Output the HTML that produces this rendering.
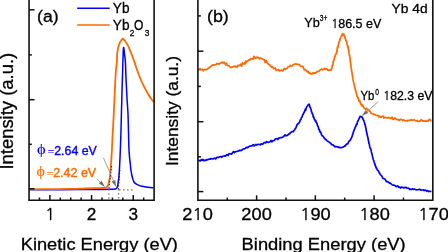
<!DOCTYPE html>
<html><head><meta charset="utf-8"><title>Figure</title>
<style>html,body{margin:0;padding:0;background:#fff;}body{width:448px;height:252px;overflow:hidden;}svg{display:block;}</style>
</head><body>
<svg width="448" height="252" viewBox="0 0 448 252">
<rect width="448" height="252" fill="#fff"/>
<g font-family="'Liberation Sans', Arial, Helvetica, sans-serif">
<path d="M29.50,189.70 C34.58,189.69 48.25,189.68 60.00,189.65 C71.75,189.62 91.50,189.55 100.00,189.50 C108.50,189.45 108.58,189.42 111.00,189.35 C113.42,189.28 113.73,189.17 114.50,189.10 C115.27,189.03 115.28,189.00 115.60,188.90 C115.92,188.80 116.13,188.77 116.40,188.50 C116.67,188.23 116.98,187.80 117.20,187.30 C117.42,186.80 117.53,186.38 117.70,185.50 C117.87,184.62 118.03,183.13 118.20,182.00 C118.37,180.87 118.55,180.03 118.70,178.70 C118.85,177.37 118.97,175.78 119.10,174.00 C119.23,172.22 119.35,170.67 119.50,168.00 C119.65,165.33 119.85,161.33 120.00,158.00 C120.15,154.67 120.25,152.00 120.40,148.00 C120.55,144.00 120.73,139.67 120.90,134.00 C121.07,128.33 121.25,119.67 121.40,114.00 C121.55,108.33 121.68,104.33 121.80,100.00 C121.92,95.67 121.98,92.00 122.10,88.00 C122.22,84.00 122.37,80.33 122.50,76.00 C122.63,71.67 122.78,66.00 122.90,62.00 C123.02,58.00 123.10,54.40 123.20,52.00 C123.30,49.60 123.38,48.17 123.50,47.60 C123.62,47.03 123.75,47.70 123.90,48.60 C124.05,49.50 124.15,50.77 124.40,53.00 C124.65,55.23 125.15,58.17 125.40,62.00 C125.65,65.83 125.72,71.67 125.90,76.00 C126.08,80.33 126.30,84.00 126.50,88.00 C126.70,92.00 126.85,95.67 127.10,100.00 C127.35,104.33 127.73,107.33 128.00,114.00 C128.27,120.67 128.53,134.00 128.70,140.00 C128.87,146.00 128.85,147.00 129.00,150.00 C129.15,153.00 129.38,155.67 129.60,158.00 C129.82,160.33 130.08,162.00 130.30,164.00 C130.52,166.00 130.65,168.17 130.90,170.00 C131.15,171.83 131.50,173.58 131.80,175.00 C132.10,176.42 132.33,177.33 132.70,178.50 C133.07,179.67 133.45,181.10 134.00,182.00 C134.55,182.90 135.27,183.38 136.00,183.90 C136.73,184.42 137.40,184.70 138.40,185.10 C139.40,185.50 140.70,185.97 142.00,186.30 C143.30,186.63 144.87,186.88 146.20,187.10 C147.53,187.32 148.80,187.47 150.00,187.60 C151.20,187.73 152.83,187.85 153.40,187.90" fill="none" stroke="#0000ff" stroke-width="1.5" stroke-linejoin="round"/>
<path d="M29.50,189.30 C32.92,189.27 43.25,189.17 50.00,189.10 C56.75,189.03 64.17,189.00 70.00,188.90 C75.83,188.80 80.83,188.62 85.00,188.50 C89.17,188.38 92.50,188.27 95.00,188.20 C97.50,188.13 98.67,188.13 100.00,188.10 C101.33,188.07 102.25,188.03 103.00,188.00 C103.75,187.97 104.03,188.00 104.50,187.95 C104.97,187.90 105.42,187.86 105.80,187.70 C106.18,187.54 106.50,187.28 106.80,187.00 C107.10,186.72 107.35,186.40 107.60,186.00 C107.85,185.60 108.07,185.35 108.30,184.60 C108.53,183.85 108.78,182.48 109.00,181.50 C109.22,180.52 109.42,179.78 109.60,178.70 C109.78,177.62 109.95,176.45 110.10,175.00 C110.25,173.55 110.37,171.67 110.50,170.00 C110.63,168.33 110.77,166.67 110.90,165.00 C111.03,163.33 111.13,162.50 111.30,160.00 C111.47,157.50 111.68,154.17 111.90,150.00 C112.12,145.83 112.38,139.17 112.60,135.00 C112.82,130.83 113.00,128.67 113.20,125.00 C113.40,121.33 113.60,117.17 113.80,113.00 C114.00,108.83 114.20,104.33 114.40,100.00 C114.60,95.67 114.75,91.83 115.00,87.00 C115.25,82.17 115.58,75.27 115.90,71.00 C116.22,66.73 116.68,64.32 116.90,61.40 C117.12,58.48 116.97,55.88 117.20,53.50 C117.43,51.12 117.85,48.97 118.30,47.10 C118.75,45.23 119.40,43.43 119.90,42.30 C120.40,41.17 120.83,40.90 121.30,40.30 C121.77,39.70 122.27,38.77 122.70,38.70 C123.13,38.63 123.48,39.48 123.90,39.90 C124.32,40.32 124.68,40.52 125.20,41.20 C125.72,41.88 126.40,42.98 127.00,44.00 C127.60,45.02 128.22,46.03 128.80,47.30 C129.38,48.57 129.85,49.93 130.50,51.60 C131.15,53.27 132.07,55.65 132.70,57.30 C133.33,58.95 133.82,60.13 134.30,61.50 C134.78,62.87 134.98,63.67 135.60,65.50 C136.22,67.33 137.12,70.08 138.00,72.50 C138.88,74.92 139.82,77.52 140.90,80.00 C141.98,82.48 143.20,84.90 144.50,87.40 C145.80,89.90 147.58,93.10 148.70,95.00 C149.82,96.90 150.38,97.63 151.20,98.80 C152.02,99.97 153.20,101.47 153.60,102.00" fill="none" stroke="#ff6a00" stroke-width="1.8" stroke-linejoin="round"/>
<g stroke="#777" stroke-width="1.3" stroke-dasharray="1.6,2.4" fill="none">
<line x1="108.9" y1="189.2" x2="108.9" y2="199"/>
<line x1="118.6" y1="189.0" x2="118.6" y2="199"/>
<line x1="119" y1="189.9" x2="133" y2="189.9"/>
</g>
<g stroke="#222" stroke-width="1" stroke-dasharray="1.5,1.5" fill="none">
<line x1="111.6" y1="166" x2="108.9" y2="189"/>
<line x1="119.9" y1="170" x2="118.4" y2="189"/>
</g>
<line x1="96.8" y1="178.7" x2="100.18" y2="182.12" stroke="#a0a098" stroke-width="1"/>
<polygon points="105.10,187.10 98.83,183.46 101.53,180.79" fill="#6e6e60"/>
<line x1="103.5" y1="157.9" x2="113.41" y2="180.68" stroke="#a0a098" stroke-width="1"/>
<polygon points="116.20,187.10 111.67,181.44 115.15,179.92" fill="#6e6e60"/>
<g stroke="#111" stroke-width="1.6" fill="none">
<path d="M29.05,0 V200.3 H154.1 V0"/>
</g>
<g stroke="#111" stroke-width="1.5">
<line x1="29.05" y1="9.8" x2="34.55" y2="9.8"/>
<line x1="29.05" y1="54.9" x2="31.85" y2="54.9"/>
<line x1="29.05" y1="99.7" x2="34.55" y2="99.7"/>
<line x1="29.05" y1="144.3" x2="31.85" y2="144.3"/>
<line x1="29.05" y1="188.8" x2="34.55" y2="188.8"/>
<line x1="39.47" y1="200.3" x2="39.47" y2="197.5"/>
<line x1="49.89" y1="200.3" x2="49.89" y2="195.0"/>
<line x1="60.31" y1="200.3" x2="60.31" y2="197.5"/>
<line x1="70.73" y1="200.3" x2="70.73" y2="197.5"/>
<line x1="81.15" y1="200.3" x2="81.15" y2="197.5"/>
<line x1="91.58" y1="200.3" x2="91.58" y2="195.0"/>
<line x1="102.00" y1="200.3" x2="102.00" y2="197.5"/>
<line x1="112.42" y1="200.3" x2="112.42" y2="197.5"/>
<line x1="122.84" y1="200.3" x2="122.84" y2="197.5"/>
<line x1="133.26" y1="200.3" x2="133.26" y2="195.0"/>
<line x1="143.68" y1="200.3" x2="143.68" y2="197.5"/>
</g>
<path d="M198.20,69.06 L199.10,69.89 L200.00,68.61 L200.83,69.96 L201.67,69.30 L202.50,69.43 L203.30,70.77 L204.10,69.63 L204.90,69.47 L205.95,69.61 L207.00,69.51 L207.80,68.45 L208.60,68.51 L209.40,67.18 L210.10,67.13 L210.80,66.66 L211.50,65.66 L212.30,65.15 L213.10,64.67 L213.90,65.15 L214.68,64.92 L215.45,64.55 L216.22,64.52 L217.00,63.36 L217.80,63.95 L218.60,63.95 L219.40,64.08 L220.20,62.86 L221.00,62.95 L222.00,62.06 L223.00,63.15 L224.00,62.21 L224.82,63.03 L225.65,64.95 L226.48,63.18 L227.30,65.41 L228.03,65.57 L228.77,65.64 L229.50,66.59 L230.23,67.00 L230.97,67.69 L231.70,67.25 L232.52,66.88 L233.35,66.72 L234.18,66.33 L235.00,66.77 L235.97,66.20 L236.95,67.28 L237.93,65.32 L238.90,65.71 L239.77,65.33 L240.63,64.14 L241.50,66.20 L242.40,62.94 L243.30,63.75 L244.20,63.07 L244.90,63.97 L245.60,61.19 L246.30,62.65 L247.00,61.04 L247.87,60.84 L248.73,59.94 L249.60,60.21 L250.40,58.65 L251.20,58.88 L252.00,58.72 L252.97,59.33 L253.93,56.31 L254.90,58.46 L255.77,58.10 L256.63,57.19 L257.50,57.69 L258.43,57.37 L259.37,58.87 L260.30,58.13 L261.20,58.31 L262.10,58.76 L263.00,59.22 L263.90,59.69 L264.55,59.92 L265.20,62.45 L265.85,60.62 L266.50,60.89 L267.18,62.95 L267.85,63.46 L268.52,64.31 L269.20,64.47 L269.97,65.17 L270.73,66.14 L271.50,67.21 L272.20,66.65 L272.90,67.03 L273.60,68.83 L274.45,68.44 L275.30,67.98 L276.15,70.57 L277.00,70.09 L277.74,69.59 L278.48,69.58 L279.22,70.87 L279.96,70.51 L280.70,70.73 L281.42,70.18 L282.14,70.28 L282.86,70.90 L283.58,69.53 L284.30,68.48 L285.02,69.38 L285.74,68.56 L286.46,68.61 L287.18,68.40 L287.90,67.09 L288.67,66.71 L289.45,66.37 L290.23,65.28 L291.00,66.02 L291.83,66.20 L292.67,65.18 L293.50,64.65 L294.30,64.47 L295.10,63.97 L295.90,63.79 L296.80,64.28 L297.70,64.23 L298.60,64.72 L299.48,64.47 L300.37,66.15 L301.25,66.43 L302.00,66.34 L302.75,66.28 L303.50,68.40 L304.23,69.80 L304.97,69.34 L305.70,70.19 L306.52,70.64 L307.35,71.91 L308.18,71.42 L309.00,73.12 L309.75,72.71 L310.50,73.88 L311.25,73.72 L312.00,73.95 L313.00,72.87 L314.00,73.07 L314.80,72.93 L315.60,73.12 L316.40,72.45 L317.27,71.33 L318.13,71.49 L319.00,71.32 L319.93,70.14 L320.87,69.49 L321.80,69.05 L322.70,69.71 L323.60,69.44 L324.50,68.41 L325.37,69.34 L326.23,68.90 L327.10,68.82 L327.90,70.42 L328.70,70.49 L329.50,69.84 L330.40,70.10 L331.30,70.12 L331.56,68.50 L331.82,67.92 L332.08,67.52 L332.34,65.07 L332.60,65.51 L332.78,64.91 L332.96,63.90 L333.14,61.87 L333.32,62.06 L333.50,60.45 L333.74,60.56 L333.98,59.78 L334.22,58.74 L334.46,57.32 L334.70,56.63 L335.02,56.71 L335.33,54.76 L335.65,54.81 L335.97,53.99 L336.28,52.66 L336.60,53.51 L336.84,51.10 L337.08,51.48 L337.32,47.90 L337.56,46.82 L337.80,47.92 L338.00,46.88 L338.20,45.46 L338.40,44.81 L338.60,42.82 L338.80,42.80 L339.07,41.65 L339.35,41.26 L339.62,41.06 L339.90,39.63 L340.22,39.01 L340.55,37.51 L340.88,36.85 L341.20,36.37 L341.60,35.42 L342.00,35.70 L342.40,33.65 L343.40,35.10 L343.95,34.23 L344.50,36.47 L344.80,36.21 L345.10,38.64 L345.40,38.59 L345.70,39.65 L345.94,40.69 L346.18,40.64 L346.42,41.20 L346.66,41.40 L346.90,44.27 L347.14,43.86 L347.38,44.73 L347.62,45.88 L347.86,47.96 L348.10,46.41 L348.25,48.52 L348.41,48.98 L348.56,50.43 L348.72,49.82 L348.87,51.57 L349.03,53.21 L349.18,54.53 L349.34,55.42 L349.49,54.73 L349.65,56.17 L349.80,56.93 L349.92,57.03 L350.04,57.89 L350.16,60.18 L350.28,60.76 L350.40,61.41 L350.52,63.17 L350.64,62.67 L350.76,64.53 L350.88,65.11 L351.00,65.96 L351.12,67.19 L351.25,67.86 L351.38,68.79 L351.50,69.67 L351.62,71.60 L351.75,71.05 L351.88,72.77 L352.00,73.38 L352.14,73.64 L352.29,75.22 L352.43,75.03 L352.57,77.16 L352.71,76.77 L352.86,77.83 L353.00,79.20 L353.17,80.36 L353.33,81.24 L353.50,82.07 L353.67,82.20 L353.83,82.56 L354.00,84.35 L354.21,85.12 L354.43,85.25 L354.64,87.40 L354.86,87.84 L355.07,88.04 L355.29,89.85 L355.50,89.66 L355.75,90.86 L356.00,92.59 L356.25,92.26 L356.50,94.19 L356.75,94.23 L357.00,96.47 L357.40,96.44 L357.80,97.92 L358.20,97.75 L358.60,99.38 L359.00,101.10 L359.50,101.66 L360.00,101.09 L360.50,103.71 L361.00,104.56 L361.60,104.42 L362.20,106.22 L362.80,105.31 L363.40,106.59 L364.00,108.00 L364.70,108.67 L365.40,109.19 L366.10,108.23 L366.80,108.33 L367.50,110.25 L368.33,109.69 L369.17,111.12 L370.00,110.99 L370.72,112.97 L371.44,113.31 L372.16,113.65 L372.88,113.81 L373.60,114.33 L374.57,114.45 L375.53,115.21 L376.50,115.46 L377.27,115.74 L378.05,115.33 L378.83,116.95 L379.60,116.08 L380.48,117.08 L381.36,117.34 L382.24,116.24 L383.12,116.03 L384.00,118.20 L384.90,117.30 L385.80,117.74 L386.70,117.67 L387.60,118.06 L388.50,117.37 L389.40,118.20 L390.30,118.12 L391.20,118.55 L392.10,117.22 L392.99,119.34 L393.88,119.14 L394.78,117.96 L395.67,118.70 L396.56,119.30 L397.45,119.80 L398.34,119.52 L399.23,120.51 L400.12,119.76 L401.02,119.23 L401.91,119.56 L402.80,120.57 L403.69,119.76 L404.58,120.73 L405.48,120.90 L406.37,120.67 L407.26,120.99 L408.15,120.29 L409.04,120.44 L409.93,120.13 L410.82,120.16 L411.72,119.61 L412.61,120.30 L413.50,120.02 L414.39,119.80 L415.28,120.79 L416.17,120.99 L417.06,120.48 L417.94,121.57 L418.83,121.30 L419.72,121.36 L420.61,120.32 L421.50,119.76 L422.41,121.05 L423.32,120.89 L424.23,121.16 L425.14,120.96 L426.05,121.50 L426.95,120.52 L427.86,121.12 L428.77,120.13 L429.68,119.24 L430.59,120.42 L431.50,120.70" fill="none" stroke="#ff6a00" stroke-width="1.7" stroke-linejoin="round"/>
<path d="M198.20,160.51 L199.15,160.40 L200.10,161.03 L201.05,159.68 L202.00,160.44 L202.94,159.43 L203.88,160.67 L204.82,160.16 L205.76,160.50 L206.70,159.59 L207.58,159.81 L208.47,159.38 L209.35,159.05 L210.23,159.26 L211.12,158.53 L212.00,158.75 L212.90,158.97 L213.80,158.49 L214.70,158.08 L215.60,158.94 L216.50,157.84 L217.40,157.36 L218.28,157.43 L219.17,156.92 L220.05,156.74 L220.93,156.52 L221.82,157.27 L222.70,156.21 L223.60,155.99 L224.50,155.91 L225.40,156.18 L226.30,154.97 L227.20,154.53 L228.10,155.52 L229.00,153.58 L229.90,153.72 L230.80,153.83 L231.70,154.18 L232.60,152.52 L233.50,151.60 L234.40,152.56 L235.30,151.75 L236.20,151.49 L237.10,151.52 L238.00,151.11 L238.90,150.82 L239.80,150.20 L240.70,150.58 L241.60,150.35 L242.50,149.41 L243.38,148.86 L244.25,149.00 L245.12,148.55 L246.00,147.57 L246.90,147.37 L247.80,147.56 L248.70,146.65 L249.60,146.11 L250.50,146.13 L251.40,145.82 L252.30,145.62 L253.20,144.62 L254.10,145.93 L255.00,145.08 L255.88,144.46 L256.77,145.04 L257.65,144.58 L258.53,144.27 L259.42,144.52 L260.30,144.83 L261.18,143.91 L262.07,144.12 L262.95,144.14 L263.83,142.61 L264.72,142.60 L265.60,142.92 L266.50,141.66 L267.40,142.02 L268.30,142.43 L269.20,142.10 L270.10,141.67 L271.00,140.42 L271.86,141.86 L272.73,140.80 L273.59,140.58 L274.45,140.15 L275.31,138.93 L276.17,138.73 L277.04,138.51 L277.90,139.49 L278.79,138.02 L279.68,137.93 L280.57,137.59 L281.46,137.60 L282.34,137.24 L283.23,136.81 L284.12,135.85 L285.01,134.98 L285.90,135.77 L286.67,135.44 L287.45,135.46 L288.23,134.53 L289.00,133.95 L289.70,133.84 L290.40,132.51 L291.10,132.20 L291.80,131.68 L292.53,131.59 L293.27,131.70 L294.00,130.51 L294.60,129.87 L295.20,128.70 L295.80,127.92 L296.20,126.91 L296.60,126.28 L297.00,124.70 L297.40,124.50 L297.90,123.67 L298.40,123.75 L298.90,122.87 L299.40,122.27 L299.80,121.59 L300.20,119.97 L300.60,119.69 L301.00,119.21 L301.48,117.52 L301.95,117.10 L302.42,115.71 L302.90,114.23 L303.27,114.17 L303.65,113.01 L304.02,112.62 L304.40,111.61 L304.77,111.21 L305.15,109.47 L305.52,110.48 L305.90,109.46 L306.27,107.96 L306.63,106.93 L307.00,106.50 L307.45,106.03 L307.90,105.17 L308.50,104.57 L309.00,104.14 L309.50,105.03 L309.78,106.89 L310.06,107.28 L310.34,107.39 L310.62,108.50 L310.90,109.10 L311.20,110.10 L311.50,111.83 L311.80,112.07 L312.10,113.45 L312.40,113.88 L312.68,113.95 L312.96,115.09 L313.24,117.10 L313.52,116.60 L313.80,117.26 L314.18,118.94 L314.56,119.18 L314.94,119.86 L315.32,121.20 L315.70,120.56 L316.07,122.30 L316.45,122.51 L316.82,123.19 L317.20,124.26 L317.50,125.88 L317.80,126.14 L318.10,126.23 L318.40,127.33 L318.70,129.24 L319.08,129.81 L319.46,129.70 L319.84,131.96 L320.22,131.57 L320.60,132.00 L320.98,133.14 L321.35,134.29 L321.73,135.28 L322.10,135.73 L322.60,135.85 L323.10,136.53 L323.60,136.89 L324.20,138.12 L324.80,138.55 L325.40,139.55 L326.00,139.57 L326.75,140.58 L327.50,141.13 L328.33,141.56 L329.17,142.13 L330.00,142.77 L330.75,143.23 L331.50,144.49 L332.25,144.82 L333.00,144.74 L333.73,145.84 L334.45,146.07 L335.17,146.89 L335.90,146.52 L336.90,146.78 L337.90,146.84 L338.90,147.45 L339.90,147.67 L340.90,147.61 L341.90,147.49 L342.62,147.46 L343.34,146.88 L344.06,146.56 L344.78,145.69 L345.50,145.79 L346.07,144.65 L346.63,144.08 L347.20,143.87 L347.70,143.99 L348.20,142.82 L348.70,141.70 L349.23,140.89 L349.77,140.65 L350.30,140.08 L350.83,139.18 L351.37,137.75 L351.90,137.08 L352.20,135.99 L352.50,135.13 L352.80,134.01 L353.10,133.39 L353.40,131.67 L353.70,131.14 L354.00,130.90 L354.30,129.41 L354.70,129.09 L355.10,127.39 L355.50,126.84 L355.87,126.27 L356.23,124.76 L356.60,124.00 L357.00,124.41 L357.40,122.15 L357.80,121.20 L358.20,120.32 L358.60,119.65 L359.00,118.69 L359.30,118.41 L359.60,117.63 L360.10,116.33 L360.70,116.65 L361.40,116.70 L362.20,117.27 L362.73,118.39 L363.27,119.81 L363.80,120.35 L364.07,121.47 L364.33,122.36 L364.60,122.73 L364.80,124.46 L365.00,124.13 L365.20,124.86 L365.40,125.72 L365.58,127.31 L365.77,127.71 L365.95,128.39 L366.13,129.82 L366.32,131.04 L366.50,131.45 L366.70,132.31 L366.90,133.79 L367.10,134.66 L367.30,135.57 L367.50,135.76 L367.70,137.12 L367.90,138.07 L368.10,138.08 L368.30,140.26 L368.50,140.71 L368.70,141.44 L368.90,143.45 L369.10,143.50 L369.30,144.06 L369.50,145.27 L369.70,146.47 L369.90,147.51 L370.10,148.08 L370.60,148.14 L370.78,149.01 L370.96,149.76 L371.14,150.46 L371.32,151.69 L371.50,152.29 L371.71,153.38 L371.93,153.87 L372.14,154.71 L372.36,155.85 L372.57,156.64 L372.79,158.13 L373.00,158.12 L373.28,159.50 L373.57,160.32 L373.85,160.70 L374.13,162.47 L374.42,163.15 L374.70,163.12 L375.03,165.04 L375.37,165.96 L375.70,166.01 L376.03,167.85 L376.37,167.98 L376.70,168.21 L377.18,169.74 L377.66,170.15 L378.14,170.54 L378.62,171.00 L379.10,172.80 L379.68,173.15 L380.26,174.49 L380.84,175.14 L381.42,175.52 L382.00,176.28 L382.60,177.88 L383.20,178.48 L383.80,178.72 L384.40,178.88 L385.00,179.25 L385.60,180.14 L386.38,181.58 L387.16,181.65 L387.94,181.92 L388.72,182.10 L389.50,183.27 L390.32,183.20 L391.13,183.94 L391.95,184.61 L392.77,185.12 L393.58,185.09 L394.40,185.26 L395.25,185.75 L396.10,186.66 L396.95,186.31 L397.80,185.81 L398.65,187.30 L399.50,187.01 L400.33,188.11 L401.16,187.02 L401.99,187.33 L402.81,187.40 L403.64,187.84 L404.47,187.60 L405.30,187.38 L406.19,187.34 L407.07,188.23 L407.96,188.21 L408.84,188.33 L409.73,189.60 L410.61,189.19 L411.50,189.46 L412.35,188.88 L413.20,189.30 L414.05,189.17 L414.90,189.26 L415.75,189.75 L416.60,189.78 L417.45,189.74 L418.30,189.76 L419.26,189.21 L420.21,189.62 L421.17,190.20 L422.13,190.00 L423.09,189.95 L424.04,190.53 L425.00,190.11 L425.91,190.33 L426.83,191.10 L427.74,190.69 L428.66,191.56 L429.57,191.29 L430.49,191.52 L431.40,191.30" fill="none" stroke="#0000ff" stroke-width="1.7" stroke-linejoin="round"/>
<line x1="378.2" y1="101.7" x2="366.97" y2="111.50" stroke="#a0a098" stroke-width="1"/>
<polygon points="361.70,116.10 365.72,110.07 368.22,112.93" fill="#6e6e60"/>
<g stroke="#111" stroke-width="1.6" fill="none">
<path d="M197.9,0 V200.3 H432.8 V0"/>
</g>
<g stroke="#111" stroke-width="1.5">
<line x1="197.9" y1="15.9" x2="200.9" y2="15.9"/>
<line x1="197.9" y1="51.2" x2="203.4" y2="51.2"/>
<line x1="197.9" y1="86.4" x2="200.9" y2="86.4"/>
<line x1="197.9" y1="121.7" x2="203.4" y2="121.7"/>
<line x1="197.9" y1="156.8" x2="200.9" y2="156.8"/>
<line x1="197.9" y1="191.6" x2="203.4" y2="191.6"/>
<line x1="227.26" y1="200.3" x2="227.26" y2="197.60000000000002"/>
<line x1="256.62" y1="200.3" x2="256.62" y2="195.3"/>
<line x1="285.99" y1="200.3" x2="285.99" y2="197.60000000000002"/>
<line x1="315.35" y1="200.3" x2="315.35" y2="195.3"/>
<line x1="344.71" y1="200.3" x2="344.71" y2="197.60000000000002"/>
<line x1="374.08" y1="200.3" x2="374.08" y2="195.3"/>
<line x1="403.44" y1="200.3" x2="403.44" y2="197.60000000000002"/>
</g>
<text transform="translate(37.00,22.20) scale(1.0212,1)" font-size="17.3" fill="#000" stroke="#000" stroke-width="0.3">(a)</text>
<text transform="translate(206.99,22.20) scale(1.0377,1)" font-size="17.2" fill="#000" stroke="#000" stroke-width="0.3">(b)</text>
<line x1="77.2" y1="8.3" x2="109.7" y2="8.3" stroke="#0000ff" stroke-width="1.5"/>
<line x1="77.2" y1="25.1" x2="109.7" y2="25.1" stroke="#ff6a00" stroke-width="1.5"/>
<text transform="translate(112.80,13.10) scale(0.9877,1)" font-size="13.8" fill="#000" stroke="#000" stroke-width="0.3">Yb</text>
<text><tspan x="112.80" y="30.30" font-size="13.8" textLength="16.67" lengthAdjust="spacingAndGlyphs" fill="#000" stroke="#000" stroke-width="0.3">Yb</tspan><tspan x="129.68" y="35.60" font-size="8.6" textLength="4.64" lengthAdjust="spacingAndGlyphs" fill="#000" stroke="#000" stroke-width="0.3">2</tspan><tspan x="134.03" y="30.40" font-size="13.8" textLength="9.34" lengthAdjust="spacingAndGlyphs" fill="#000" stroke="#000" stroke-width="0.3">O</tspan><tspan x="144.69" y="35.70" font-size="8.6" textLength="4.57" lengthAdjust="spacingAndGlyphs" fill="#000" stroke="#000" stroke-width="0.3">3</tspan></text>
<text><tspan x="37.05" y="154.10" font-size="14.4" textLength="8.62" lengthAdjust="spacingAndGlyphs" fill="#0000ff" stroke="#0000ff" stroke-width="0.1" font-family="'Liberation Serif', 'Times New Roman', serif">ϕ</tspan><tspan x="47.49" y="155.60" font-size="13.0" textLength="6.91" lengthAdjust="spacingAndGlyphs" fill="#0000ff" stroke="#0000ff" stroke-width="0" font-family="'Liberation Serif', 'Times New Roman', serif">=</tspan><tspan x="54.18" y="154.60" font-size="12.0" textLength="42.68" lengthAdjust="spacingAndGlyphs" fill="#0000ff" stroke="#0000ff" stroke-width="0.35">2.64 eV</tspan></text>
<text><tspan x="36.46" y="176.40" font-size="14.6" textLength="8.39" lengthAdjust="spacingAndGlyphs" fill="#ff6a00" stroke="#ff6a00" stroke-width="0.1" font-family="'Liberation Serif', 'Times New Roman', serif">ϕ</tspan><tspan x="46.47" y="177.80" font-size="13.0" textLength="7.15" lengthAdjust="spacingAndGlyphs" fill="#ff6a00" stroke="#ff6a00" stroke-width="0" font-family="'Liberation Serif', 'Times New Roman', serif">=</tspan><tspan x="53.17" y="176.60" font-size="12.0" textLength="42.98" lengthAdjust="spacingAndGlyphs" fill="#ff6a00" stroke="#ff6a00" stroke-width="0.4">2.42 eV</tspan></text>
<text transform="translate(45.37,219.80) scale(1.0000,1)" font-size="17.2" fill="#000" stroke="#000" stroke-width="0.3"><tspan font-family="NanumGothic, 'Liberation Sans', sans-serif" font-size="15.93">1</tspan></text>
<text transform="translate(86.69,219.80) scale(1.0000,1)" font-size="17.2" fill="#000" stroke="#000" stroke-width="0.3">2</text>
<text transform="translate(128.43,219.80) scale(1.0000,1)" font-size="17.2" fill="#000" stroke="#000" stroke-width="0.3">3</text>
<text transform="translate(20.75,250.00) scale(1.0739,1)" font-size="17.0" fill="#000" stroke="#000" stroke-width="0.3">Kinetic Energy (eV)</text>
<text transform="translate(13.10,169.60) rotate(-90) scale(1.0478,1)" font-size="17.6" fill="#000" stroke="#000" stroke-width="0.3">Intensity (a.u.)</text>
<text><tspan x="304.22" y="27.40" font-size="13.6" textLength="15.51" lengthAdjust="spacingAndGlyphs" fill="#000" stroke="#000" stroke-width="0.3">Yb</tspan><tspan x="319.75" y="21.20" font-size="8.6" textLength="7.58" lengthAdjust="spacingAndGlyphs" fill="#000" stroke="#000" stroke-width="0.3">3+</tspan><tspan x="327.66" y="27.50" font-size="13.0" textLength="53.69" lengthAdjust="spacingAndGlyphs" fill="#000" stroke="#000" stroke-width="0.3"> <tspan font-family="NanumGothic, 'Liberation Sans', sans-serif" font-size="12.04">1</tspan>86.5 eV</tspan></text>
<text transform="translate(391.60,12.90) scale(1.0081,1)" font-size="13.7" fill="#000" stroke="#000" stroke-width="0.3">Yb 4d</text>
<text><tspan x="360.55" y="99.90" font-size="13.0" textLength="13.82" lengthAdjust="spacingAndGlyphs" fill="#000" stroke="#000" stroke-width="0.3">Yb</tspan><tspan x="375.34" y="94.90" font-size="8.5" textLength="3.72" lengthAdjust="spacingAndGlyphs" fill="#000" stroke="#000" stroke-width="0.3">0</tspan><tspan x="379.85" y="99.90" font-size="13.0" textLength="52.60" lengthAdjust="spacingAndGlyphs" fill="#000" stroke="#000" stroke-width="0.3"> <tspan font-family="NanumGothic, 'Liberation Sans', sans-serif" font-size="12.04">1</tspan>82.3 eV</tspan></text>
<text transform="translate(182.29,219.70) scale(1.0600,1)" font-size="17.2" fill="#000" stroke="#000" stroke-width="0.3">2<tspan font-family="NanumGothic, 'Liberation Sans', sans-serif" font-size="15.93">1</tspan>0</text>
<text transform="translate(241.36,219.70) scale(1.0600,1)" font-size="17.2" fill="#000" stroke="#000" stroke-width="0.3">200</text>
<text transform="translate(300.19,219.70) scale(1.0600,1)" font-size="17.2" fill="#000" stroke="#000" stroke-width="0.3"><tspan font-family="NanumGothic, 'Liberation Sans', sans-serif" font-size="15.93">1</tspan>90</text>
<text transform="translate(359.26,219.70) scale(1.0600,1)" font-size="17.2" fill="#000" stroke="#000" stroke-width="0.3"><tspan font-family="NanumGothic, 'Liberation Sans', sans-serif" font-size="15.93">1</tspan>80</text>
<text transform="translate(418.33,219.70) scale(1.0600,1)" font-size="17.2" fill="#000" stroke="#000" stroke-width="0.3"><tspan font-family="NanumGothic, 'Liberation Sans', sans-serif" font-size="15.93">1</tspan>70</text>
<text transform="translate(241.59,250.40) scale(1.0860,1)" font-size="16.9" fill="#000" stroke="#000" stroke-width="0.3">Binding Energy (eV)</text>
<text transform="translate(178.00,166.00) rotate(-90) scale(1.0332,1)" font-size="16.8" fill="#000" stroke="#000" stroke-width="0.3">Intensity (a.u.)</text>
</g></svg>
</body></html>
